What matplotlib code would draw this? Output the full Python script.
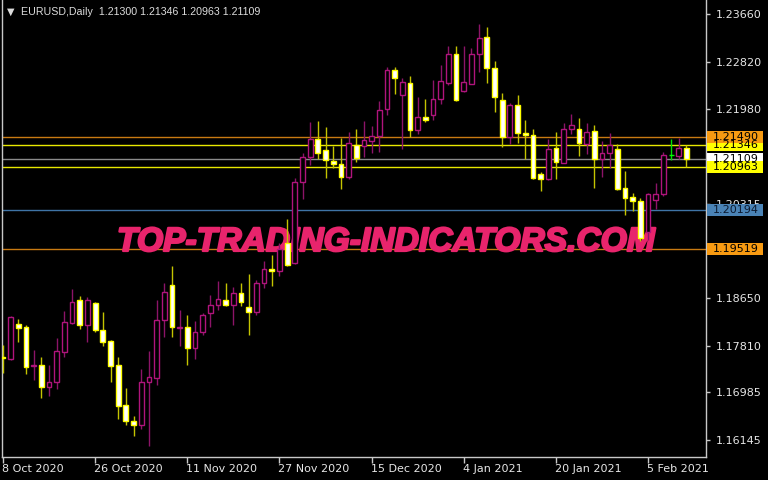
import matplotlib
matplotlib.use("Agg")
import matplotlib.pyplot as plt
from matplotlib.patches import Rectangle
import matplotlib.transforms as mtransforms
import matplotlib.patheffects as pe

# ---------------- data (EURUSD daily, 8 Oct 2020 .. 12 Feb 2021) ----------------
opens = [
    1.17612, 1.17577, 1.18191, 1.18138, 1.17453, 1.17471, 1.17077, 1.17176, 1.17701, 1.18209,
    1.18608, 1.18179, 1.18562, 1.18090, 1.17883, 1.17459, 1.16764, 1.16486, 1.16410, 1.17166,
    1.17246, 1.18267, 1.18886, 1.18126, 1.18138, 1.17767, 1.18043, 1.18385, 1.18520, 1.18608,
    1.18532, 1.18739, 1.18491, 1.18396, 1.18909, 1.19169, 1.19121, 1.19623, 1.19270, 1.20695,
    1.21144, 1.21450, 1.21261, 1.21066, 1.21020, 1.20790, 1.21350, 1.21332, 1.21420, 1.21508,
    1.21980, 1.22670, 1.22228, 1.22435, 1.21608, 1.21851, 1.21874, 1.22157, 1.22440, 1.22953,
    1.22304, 1.22423, 1.22953, 1.23249, 1.22700, 1.22139, 1.21497, 1.22051, 1.21568, 1.21526,
    1.20831, 1.20742, 1.21291, 1.21025, 1.21626, 1.21626, 1.21362, 1.21596, 1.21109, 1.21202,
    1.21286, 1.20596, 1.20429, 1.20359, 1.19823, 1.20371, 1.20477, 1.21173, 1.21155, 1.21300,
]
highs = [
    1.17825, 1.18325, 1.18279, 1.18179, 1.17736, 1.17600, 1.17471, 1.17949, 1.18425, 1.18815,
    1.18691, 1.18661, 1.18585, 1.18396, 1.17901, 1.17600, 1.17060, 1.16575, 1.17400, 1.17706,
    1.18608, 1.18916, 1.19210, 1.18443, 1.18343, 1.18237, 1.18385, 1.18697, 1.18956, 1.18916,
    1.18838, 1.18916, 1.19075, 1.18974, 1.19310, 1.19416, 1.19623, 1.20035, 1.20773, 1.21202,
    1.21756, 1.21773, 1.21667, 1.21332, 1.21480, 1.21579, 1.21639, 1.21773, 1.21685, 1.22127,
    1.22718, 1.22718, 1.22524, 1.22559, 1.22205, 1.22157, 1.22493, 1.22758, 1.23089, 1.23089,
    1.23089, 1.23054, 1.23484, 1.23426, 1.22834, 1.22263, 1.22099, 1.22228, 1.21785, 1.21639,
    1.20872, 1.21450, 1.21586, 1.21732, 1.21892, 1.21834, 1.21745, 1.21697, 1.21420, 1.21568,
    1.21362, 1.20889, 1.20494, 1.20406, 1.20494, 1.20671, 1.21226, 1.21450, 1.21480, 1.21346,
]
lows = [
    1.17329, 1.17547, 1.17866, 1.17306, 1.17206, 1.16883, 1.16929, 1.17042, 1.17600, 1.18196,
    1.18103, 1.17866, 1.18043, 1.17807, 1.17176, 1.16511, 1.16410, 1.16221, 1.16334, 1.16039,
    1.17106, 1.17961, 1.17961, 1.17795, 1.17459, 1.17577, 1.17990, 1.18138, 1.18431, 1.18502,
    1.18167, 1.18502, 1.18002, 1.18343, 1.18828, 1.18856, 1.19045, 1.19222, 1.19257, 1.20401,
    1.20996, 1.21096, 1.20773, 1.20937, 1.20565, 1.20742, 1.21049, 1.21144, 1.21202, 1.21226,
    1.21880, 1.22258, 1.21286, 1.21497, 1.21538, 1.21756, 1.21791, 1.22069, 1.22411, 1.22127,
    1.22287, 1.22423, 1.22641, 1.22440, 1.21933, 1.21321, 1.21362, 1.21379, 1.21109, 1.20742,
    1.20535, 1.20730, 1.20755, 1.21025, 1.21538, 1.21155, 1.21185, 1.20596, 1.20790, 1.20950,
    1.20553, 1.20106, 1.20177, 1.19663, 1.19681, 1.20212, 1.20447, 1.21078, 1.21109, 1.20963,
]
closes = [
    1.17586, 1.18307, 1.18121, 1.17430, 1.17471, 1.17077, 1.17166, 1.17713, 1.18220, 1.18580,
    1.18179, 1.18608, 1.18090, 1.17866, 1.17453, 1.16752, 1.16480, 1.16410, 1.17166, 1.17253,
    1.18267, 1.18757, 1.18131, 1.18131, 1.17767, 1.18050, 1.18343, 1.18532, 1.18633, 1.18532,
    1.18739, 1.18580, 1.18396, 1.18916, 1.19169, 1.19121, 1.19522, 1.19240, 1.20702, 1.21144,
    1.21450, 1.21202, 1.21084, 1.21020, 1.20790, 1.21392, 1.21114, 1.21432, 1.21508, 1.21968,
    1.22670, 1.22524, 1.22453, 1.21608, 1.21844, 1.21791, 1.22157, 1.22481, 1.22953, 1.22145,
    1.22464, 1.22953, 1.23231, 1.22700, 1.22205, 1.21497, 1.22051, 1.21555, 1.21526, 1.20760,
    1.20742, 1.21286, 1.21049, 1.21626, 1.21697, 1.21392, 1.21579, 1.21109, 1.21202, 1.21350,
    1.20578, 1.20419, 1.20359, 1.19717, 1.20489, 1.20489, 1.21167, 1.21173, 1.21300, 1.21109,
]

date_tick_bars = [0, 12, 24, 36, 48, 60, 72, 84]
date_tick_labels = ["8 Oct 2020", "26 Oct 2020", "11 Nov 2020", "27 Nov 2020",
                    "15 Dec 2020", "4 Jan 2021", "20 Jan 2021", "5 Feb 2021"]
price_ticks = [1.23660, 1.22820, 1.21980, 1.20315, 1.18650, 1.17810, 1.16985, 1.16145]

level_prices = [1.21109, 1.21346, 1.21490, 1.20963, 1.20194, 1.19519]
level_line_colors = ["#8a8a8a", "#e8e800", "#c87a12", "#e8e800", "#3f74a6", "#c87a12"]
level_box_colors = ["#ffffff", "#ffff00", "#f79a12", "#ffff00", "#4a83b6", "#f79a12"]
level_text_colors = ["#000000", "#000000", "#000000", "#000000", "#0c1a30", "#000000"]

title_symbol = "\u25BC"
title_text = "EURUSD,Daily  1.21300 1.21346 1.20963 1.21109"
watermark = "TOP-TRADING-INDICATORS.COM"

# ---------------- figure ----------------
W, H = 768, 480
fig = plt.figure(figsize=(W / 100, H / 100), dpi=100, facecolor="black")
ax = fig.add_axes([2 / W, 1 - 457 / H, 704 / W, 457 / H])
ax.set_facecolor("black")
ax.set_xlim(-0.13, 91.54)
ax.set_ylim(1.15844, 1.23908)

for side in ("left", "right", "bottom"):
    ax.spines[side].set_color("#c8c8c8")
    ax.spines[side].set_linewidth(1.0)
ax.spines["top"].set_visible(False)

# horizontal levels
for p, c in zip(level_prices, level_line_colors):
    ax.axhline(p, color=c, lw=1.0, zorder=1)

# candles
n = len(opens)
bull_x, bull_b, bull_h = [], [], []
bear_x, bear_b, bear_h = [], [], []
for i in range(n):
    o, h, l, c = opens[i], highs[i], lows[i], closes[i]
    if c > o:
        ax.vlines(i, l, h, color="#8c1468", lw=1.0, zorder=3)
        bull_x.append(i); bull_b.append(o); bull_h.append(c - o)
    elif c < o:
        ax.vlines(i, l, h, color="#c4c400", lw=1.0, zorder=3)
        bear_x.append(i); bear_b.append(c); bear_h.append(o - c)
    else:
        ax.vlines(i, l, h, color="#00e000", lw=1.0, zorder=3)
        ax.hlines(c, i - 0.31, i + 0.31, color="#00ff00", lw=1.0, zorder=4)

ax.bar(bull_x, bull_h, bottom=bull_b, width=0.62, facecolor="black",
       edgecolor="#b0147c", linewidth=1.0, zorder=4)
ax.bar(bear_x, bear_h, bottom=bear_b, width=0.62, facecolor="white",
       edgecolor="#ffff00", linewidth=1.0, zorder=4)

# axes ticks
ax.yaxis.tick_right()
ax.set_yticks(price_ticks)
ax.set_yticklabels([f"{v:.5f}" for v in price_ticks])
ax.set_xticks(date_tick_bars)
ax.set_xticklabels(date_tick_labels, ha="left")
ax.tick_params(axis="y", colors="#c8c8c8", labelcolor="#e6e6e6", labelsize=8,
               length=3, width=1, pad=4)
ax.tick_params(axis="x", colors="#c8c8c8", labelcolor="#e6e6e6", labelsize=8,
               length=4, width=1, pad=1)
offset = mtransforms.ScaledTranslation(-1 / 100, 0, fig.dpi_scale_trans)
for lab in ax.get_xticklabels():
    lab.set_transform(lab.get_transform() + offset)

# level boxes on the price scale
trans = mtransforms.blended_transform_factory(ax.transAxes, ax.transData)
box_h = 12 / 5655.0
for p, bc, tc in zip(level_prices, level_box_colors, level_text_colors):
    r = Rectangle((705 / 704, p - box_h / 2), 56 / 704, box_h, transform=trans,
                  facecolor=bc, edgecolor="none", clip_on=False, zorder=6)
    ax.add_patch(r)
    ax.text(711 / 704, p, f"{p:.5f}", transform=trans, color=tc, fontsize=8,
            va="center", ha="left", clip_on=False, zorder=7)

# watermark (behind candles)
ax.text(117 / W, 1 - 251 / H, watermark, transform=fig.transFigure,
        family="Liberation Sans", weight="bold", style="italic", fontsize=24.2,
        color="#e8246c", va="baseline", ha="left", zorder=2,
        path_effects=[pe.withStroke(linewidth=1.6, foreground="#e8246c")])

# title
fig.text(7 / W, 1 - 12 / H, title_symbol, color="#dcdcdc", fontsize=7, va="center", ha="left")
fig.text(21 / W, 1 - 12 / H, title_text, color="#dcdcdc", fontsize=7.7,
         family="Liberation Sans", va="center", ha="left")

fig.savefig("out.png", dpi=100, facecolor="black")
